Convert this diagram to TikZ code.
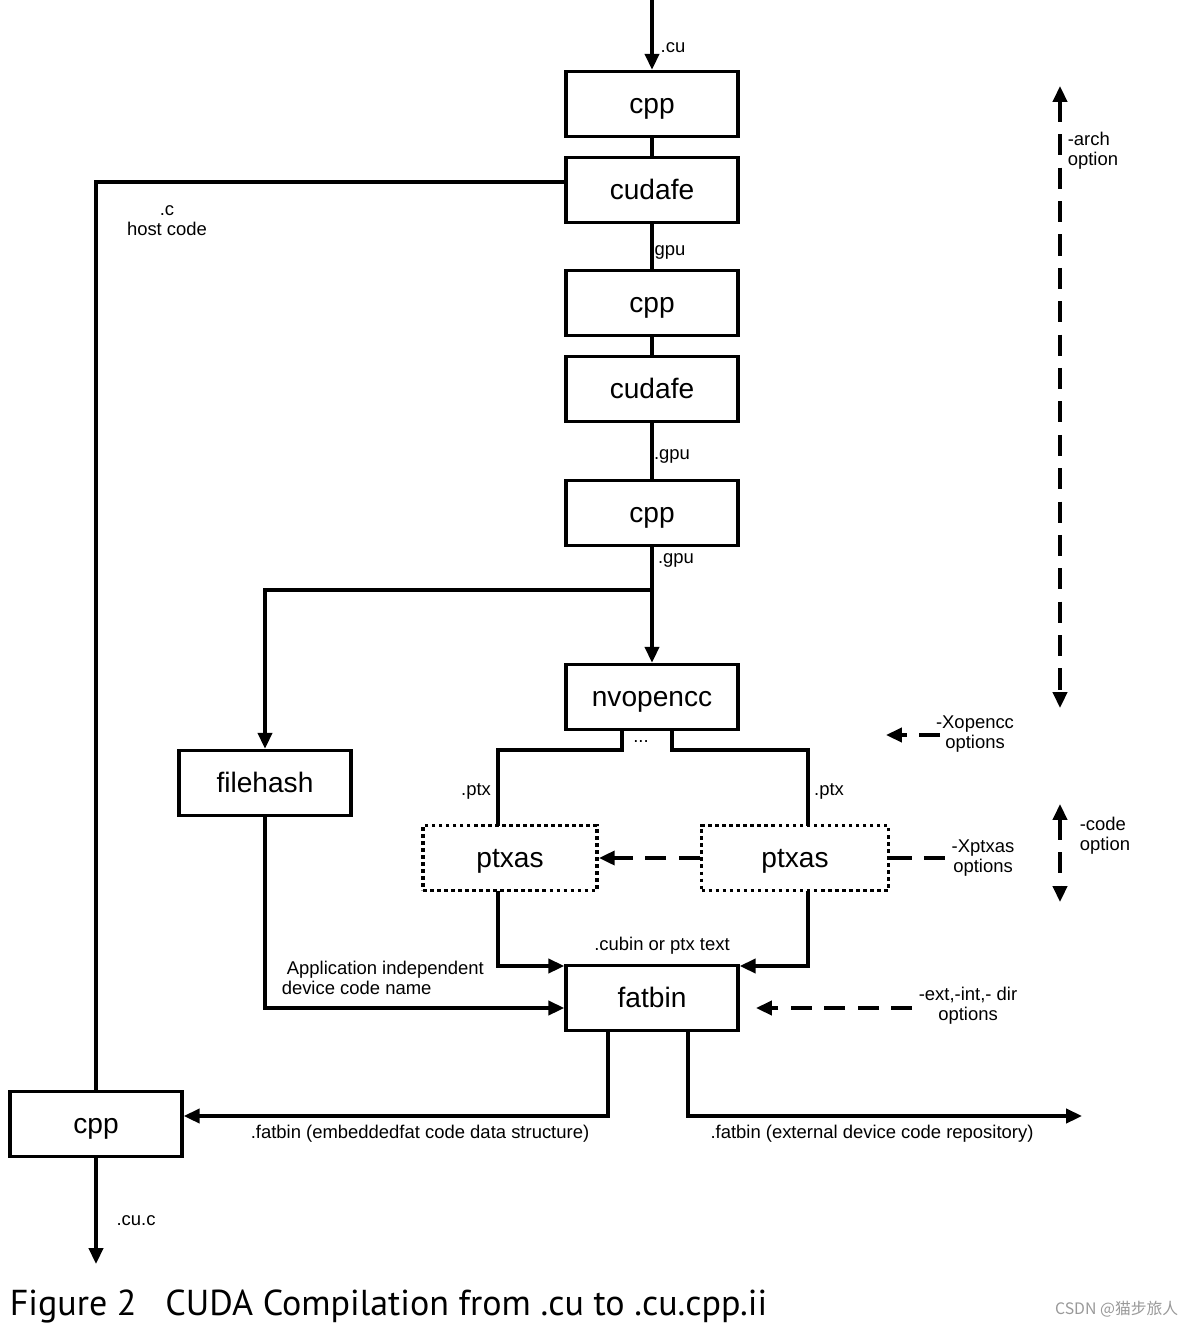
\documentclass[tikz,border=0pt]{standalone}
\usepackage{fontspec}
\setmainfont{Liberation Sans}
\newfontfamily\capfont{PT Sans}
\newfontfamily\cjk{Noto Sans CJK SC}
\usetikzlibrary{arrows.meta}
\begin{document}
\begin{tikzpicture}[x=0.02cm,y=-0.02cm,
  line width=2pt,
  >={Triangle[length=9pt,width=8pt]},
  box/.style={draw,line width=2pt,minimum width=3.44cm,minimum height=1.3cm,font=\fontsize{16}{18}\selectfont,inner sep=0pt,text height=2.1ex,text depth=0ex},
  dbox/.style={box,dotted,line width=2.2pt},
  lab/.style={font=\fontsize{10.5}{11.5}\selectfont,inner sep=0pt,align=center},
  dsh/.style={dash pattern=on 12pt off 7pt}]
\useasboundingbox (0,0) rectangle (1194,1328);
\node[box] (cpp1) at (652,104) {cpp};
\node[box] (cud1) at (652,190) {cudafe};
\node[box] (cpp2) at (652,303) {cpp};
\node[box] (cud2) at (652,389) {cudafe};
\node[box] (cpp3) at (652,513) {cpp};
\node[box] (nvo) at (652,697) {nvopencc};
\node[box] (fh) at (265,783) {filehash};
\node[dbox,minimum width=3.48cm] (px1) at (510,858) {ptxas};
\node[dbox,minimum width=3.74cm] (px2) at (795,858) {ptxas};
\node[box] (fat) at (652,998) {fatbin};
\node[box] (cpp4) at (96,1124) {cpp};
\coordinate (top) at (652,0);
\coordinate (br) at (652,590);
\coordinate (endr) at (1082,1116);
\coordinate (endb) at (96,1264);
\draw[->] (top) -- (cpp1.north);
\node[lab] at (673,48) {.cu};
\draw (cpp1) -- (cud1);
\draw (cud1.west|-0,182) -- (96,182) -- (cpp4.north);
\node[lab] at (167,221) {.c\\host code};
\draw (cud1) -- (cpp2);
\node[lab] at (670,252) {gpu};
\draw (cpp2) -- (cud2);
\draw (cud2) -- (cpp3);
\node[lab] at (672,456) {.gpu};
\draw[->] (cpp3) -- (nvo);
\node[lab] at (676,560) {.gpu};
\draw[->] (br) -- (265,590) -- (fh.north);
\node[lab] at (641,742) {...};
\draw (622,730) -- (622,750) -- (498,750) -- (498,826);
\draw (672,730) -- (672,750) -- (808,750) -- (808,826);
\node[lab] at (476,791) {.ptx};
\node[lab] at (829,791) {.ptx};
\draw[->,dsh] (px2.west) -- (px1.east);
\draw[->] (498,891) -- (498,966) -- (fat.west|-0,966);
\draw[->] (808,891) -- (808,966) -- (fat.east|-0,966);
\node[lab] at (662,946) {.cubin or ptx text};
\draw[->] (fh.south) -- (265,1008) -- (fat.west|-0,1008);
\node[lab,align=left,anchor=west] at (280,978) {\ Application independent\\device code name};
\draw[->] (608,1030) -- (608,1116) -- (cpp4.east|-0,1116);
\node[lab] at (420,1134) {.fatbin (embeddedfat code data structure)};
\draw[->] (688,1030) -- (688,1116) -- (endr);
\node[lab] at (872,1134) {.fatbin (external device code repository)};
\draw[->] (cpp4.south) -- (endb);
\node[lab] at (136,1221) {.cu.c};
% options
\draw[<->,dsh] (1060,86) -- (1060,708);
\node[lab,align=left,anchor=west] at (1066,151) {-arch\\option};
\draw[->,dsh] (940,735) -- (886,735);
\node[lab] at (975,734) {-Xopencc\\options};
\draw[<->,dsh] (1060,804) -- (1060,902);
\node[lab,align=left,anchor=west] at (1078,836) {-code\\option};
\draw[dsh] (px2.east) -- (950,858);
\node[lab] at (983,858) {-Xptxas\\options};
\draw[->,dsh] (912,1008) -- (756,1008);
\node[lab] at (968,1006) {-ext,-int,- dir\\options};
\node[anchor=west,inner sep=0pt,font=\capfont\fontsize{20.5}{22}\selectfont] at (8,1306) {Figure 2\ \ \ CUDA Compilation from .cu to .cu.cpp.ii};
\node[anchor=east,inner sep=0pt,text=gray!80,font=\cjk\fontsize{9}{10}\selectfont] at (1180,1309) {CSDN @猫步旅人};
\end{tikzpicture}
\end{document}
